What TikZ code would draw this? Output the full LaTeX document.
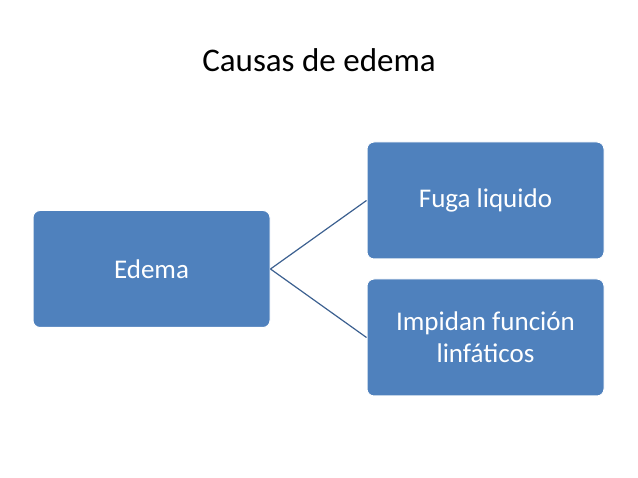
\documentclass[tikz,border=0pt]{standalone}
\usepackage{fontspec}
\setmainfont{Carlito}
\begin{document}
\begin{tikzpicture}[x=1pt,y=-1pt,
  box/.style={draw=white,line width=1pt,fill=boxblue,rounded corners=7pt,minimum width=237pt,minimum height=117pt,text=white,font=\fontsize{27}{32}\selectfont,align=center,inner sep=2pt},
  conn/.style={draw=lineblue,line width=1.2pt}]
\definecolor{boxblue}{HTML}{4F81BD}
\definecolor{lineblue}{HTML}{3C6090}
\useasboundingbox (0,0) rectangle (638,478);
\node[font=\fontsize{33}{38}\selectfont] (title) at (319,60) {Causas de edema};
\node[box] (edema) at (151.5,269) {Edema};
\node[box] (fuga) at (485.5,200.5) {Fuga liquido};
\node[box] (imp) at (485.5,337.5) {Impidan función\\linfáticos};
\draw[conn] (edema.east) -- (fuga.west);
\draw[conn] (edema.east) -- (imp.west);
\end{tikzpicture}
\end{document}
